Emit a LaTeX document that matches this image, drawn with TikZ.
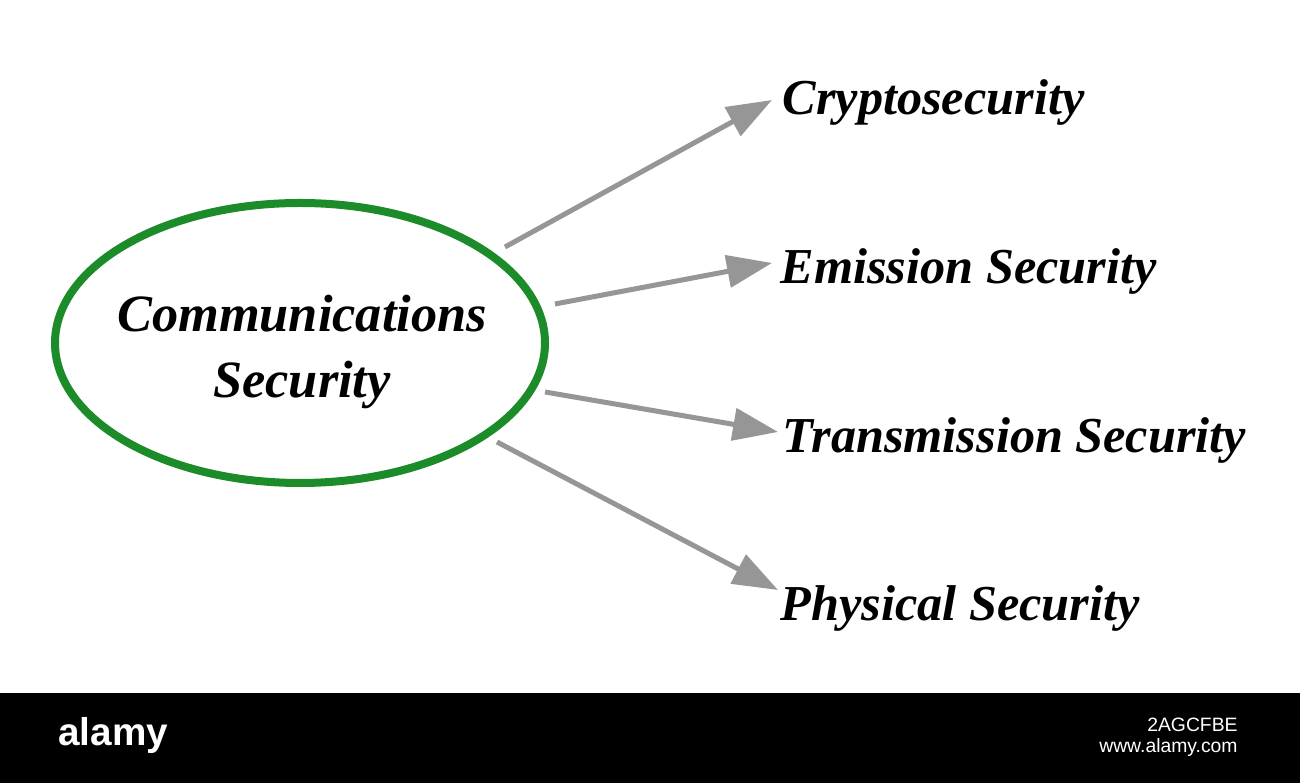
\documentclass[tikz,border=0pt]{standalone}
\usepackage{fontspec}
\setmainfont{Liberation Serif}
\newfontfamily\wmfont{Liberation Sans}
\usetikzlibrary{arrows.meta}
\definecolor{ringgreen}{RGB}{28,140,42}
\definecolor{arrgray}{RGB}{150,150,150}
\begin{document}
\begin{tikzpicture}[x=0.01cm,y=-0.01cm,
  lbl/.style={anchor=west,font=\fontsize{14.3}{16}\selectfont\bfseries\itshape,inner sep=0pt},
  conn/.style={draw=arrgray,line width=0.5mm,-{Triangle[length=4.5mm,width=3.2mm]}}]
\useasboundingbox (0,0) rectangle (1300,783);
\fill[white] (0,0) rectangle (1300,693);
\draw[ringgreen,line width=0.8mm] (300,343) ellipse [x radius=245,y radius=140];
\node[font=\fontsize{14.9}{19}\selectfont\bfseries\itshape,align=center] (c) at (302,352) {Communications\\Security};
\node[lbl] (t1) at (782,102) {Cryptosecurity};
\node[lbl] (t2) at (780,271) {Emission Security};
\node[lbl] (t3) at (782,440) {Transmission Security};
\node[lbl] (t4) at (780,608) {Physical Security};
\coordinate (s1) at (505,247);
\coordinate (s2) at (555,304);
\coordinate (s3) at (545,392);
\coordinate (s4) at (497,442);
\coordinate (e1) at (772,100);
\coordinate (e2) at (772,263);
\coordinate (e3) at (778,432);
\coordinate (e4) at (778,590);
\draw[conn] (s1) -- (e1);
\draw[conn] (s2) -- (e2);
\draw[conn] (s3) -- (e3);
\draw[conn] (s4) -- (e4);
\fill[black] (0,693) rectangle (1300,783);
\node[white,font=\wmfont\fontsize{11}{12}\selectfont\bfseries,anchor=west] (wm) at (46,736) {alamy};
\node[white,font=\wmfont\fontsize{5.5}{6}\selectfont,anchor=east] (id) at (1250,725) {2AGCFBE};
\node[white,font=\wmfont\fontsize{5.5}{6}\selectfont,anchor=east] (url) at (1250,748) {www.alamy.com};
\end{tikzpicture}
\end{document}
